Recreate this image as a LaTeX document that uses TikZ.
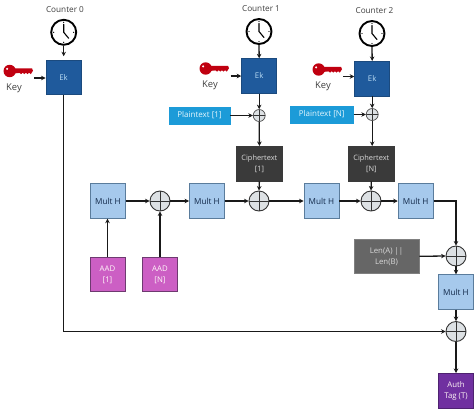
\documentclass[tikz,border=0pt]{standalone}
\usepackage{fontspec}
\setmainfont{Open Sans}
\usetikzlibrary{arrows.meta,calc}
\definecolor{ekfill}{HTML}{1F5A9C}
\definecolor{ekline}{HTML}{1B4A7E}
\definecolor{multfill}{HTML}{A6C9EC}
\definecolor{multline}{HTML}{5A7C9C}
\definecolor{multtext}{HTML}{12294A}
\definecolor{ekt}{HTML}{BBDDF5}
\definecolor{aadfill}{HTML}{CC5FC4}
\definecolor{aadline}{HTML}{6E3A70}
\definecolor{ptfill}{HTML}{1C9BD8}
\definecolor{cifill}{HTML}{3A3A3A}
\definecolor{lenfill}{HTML}{666666}
\definecolor{authfill}{HTML}{7030A0}
\definecolor{xorfill}{HTML}{DDE1E4}
\definecolor{keyred}{HTML}{C00010}
\tikzset{
  x=1pt,y=-1pt,
  txt/.style={font=\fontsize{8.2}{10.5}\selectfont,text=black!75,inner sep=0pt},
  keytxt/.style={font=\fontsize{9.4}{10}\selectfont,text=black!75,inner sep=0pt},
  box/.style={draw,line width=0.9pt,minimum width=35pt,minimum height=34.5pt,inner sep=0pt,align=center,font=\fontsize{7.8}{11}\selectfont},
  ekbox/.style={box,fill=ekfill,draw=ekline,text=ekt},
  multbox/.style={box,fill=multfill,draw=multline,text=multtext,font=\fontsize{8.2}{11}\selectfont},
  aadbox/.style={box,fill=aadfill,draw=aadline,text=white!90!pink},
  cibox/.style={box,fill=cifill,draw=cifill,minimum width=46pt,text=white!85!black,font=\fontsize{7.4}{10.6}\selectfont},
  lenbox/.style={box,fill=lenfill,draw=black!50,minimum width=65pt,text=white!85!black},
  authbox/.style={box,fill=authfill,draw=authfill!70!black,text=white!85!pink},
  ptbox/.style={box,fill=ptfill,draw=ptfill,minimum height=17pt,font=\fontsize{8}{10}\selectfont,text=white!90!cyan},
  xorbig/.style={circle,draw=black!80,fill=xorfill,line width=0.9pt,minimum size=20pt,inner sep=0pt,
    path picture={\draw[black!80,line width=0.9pt] (path picture bounding box.north) -- (path picture bounding box.south)
      (path picture bounding box.west) -- (path picture bounding box.east);}},
  xorsmall/.style={xorbig,minimum size=12pt,line width=0.7pt,draw=black!70},
  clockface/.style={circle,draw=black,fill=white,line width=1.9pt,minimum size=25pt,inner sep=0pt},
  conn/.style={line width=1.3pt,black!90,-{Stealth[length=4.5pt,width=4.5pt]}},
  pics/keyicon/.style={code={
    \fill[keyred,even odd rule] (6.2,6.5) circle (6.2) (3.6,4.4) circle (1.4);
    \fill[keyred] (10,3.8) -- (28.5,3.8) -- (29.5,6.2) -- (27.3,9.6) -- (25.6,8.2) -- (24,9.6) -- (22.4,8.2) -- (20.8,9.6) -- (19.2,8.2) -- (17.6,9.6) -- (16,8.4) -- (10,9) -- cycle;
  }},
  pics/clockhands/.style={code={
    \draw[black,line width=1.1pt,line cap=round] (0,-8) -- (0,0) -- (5,6);
    \foreach \a in {0,90,180,270}{\fill[black] (\a:10) circle (0.7);}
  }}
}
\begin{document}
\begin{tikzpicture}
\useasboundingbox (0,0) rectangle (474,408);
\fill[white] (0,0) rectangle (474,408);

% counters
\node[txt] (c0l) at (65,9.5) {Counter 0};
\node[txt] (c1l) at (261,8.5) {Counter 1};
\node[txt] (c2l) at (374.5,11) {Counter 2};
\node[clockface] (clk0) at (63.7,32.3) {};
\node[clockface] (clk1) at (259,31.5) {};
\node[clockface] (clk2) at (372,33.5) {};
\pic at (clk0) {clockhands};
\pic at (clk1) {clockhands};
\pic at (clk2) {clockhands};

% Ek
\node[ekbox] (ek0) at (63.5,77.3) {Ek};
\node[ekbox] (ek1) at (259.2,76) {Ek};
\node[ekbox] (ek2) at (372.2,78.7) {Ek};

% keys
\pic at (3.5,64.5) {keyicon};
\pic at (199.5,62) {keyicon};
\pic at (312.5,63) {keyicon};
\node[keytxt] (k0) at (14,88) {Key};
\node[keytxt] (k1) at (210,85.5) {Key};
\node[keytxt] (k2) at (323,86) {Key};
\coordinate (ka0) at (34,78);
\coordinate (ka1) at (230.5,76);
\coordinate (ka2) at (343,76.5);

% plaintext and small xors
\node[ptbox,minimum width=61pt] (pt1) at (199.5,115.5) {Plaintext [1]};
\node[ptbox,minimum width=63pt] (ptn) at (321.7,114.5) {Plaintext [N]};
\node[xorsmall] (xs1) at (259.2,115.5) {};
\node[xorsmall] (xsn) at (372.2,114.5) {};

% ciphertext
\node[cibox] (ci1) at (259.4,163.7) {Ciphertext\\{}[1]};
\node[cibox] (cin) at (371.3,163.7) {Ciphertext\\{}[N]};

% main row
\node[multbox] (m1) at (108,201) {Mult H};
\node[xorbig] (x1) at (160,201) {};
\node[multbox] (m2) at (207,201) {Mult H};
\node[xorbig] (x2) at (259,201) {};
\node[multbox] (m3) at (321.5,201) {Mult H};
\node[xorbig] (x3) at (371,201) {};
\node[multbox] (m4) at (415.7,201) {Mult H};

% AAD
\node[aadbox] (a1) at (107.5,274.5) {AAD\\{}[1]};
\node[aadbox] (an) at (160,274.5) {AAD\\{}[N]};

% tail
\node[lenbox] (len) at (386.5,256.3) {Len(A) ||\\Len(B)};
\node[xorbig] (x4) at (456,256) {};
\node[multbox] (m5) at (456,292) {Mult H};
\node[xorbig] (x5) at (456,331.5) {};
\node[authbox] (tag) at (456,390.7) {Auth\\Tag (T)};

% connectors
\draw[conn] (clk0.south) -- ++(0,10.5);
\draw[conn] (clk1.south) -- (ek1.north);
\draw[conn] (clk2.south) -- (ek2.north);
\draw[conn] (ka0) -- (ka0 -| ek0.west);
\draw[conn] (ka1) -- (ka1 -| ek1.west);
\draw[conn] (ka2) -- (ka2 -| ek2.west);
\draw[conn] (ek1.south) -- (xs1.north);
\draw[conn] (ek2.south) -- (xsn.north);
\draw[conn] (pt1.east) -- (xs1.west);
\draw[conn] (ptn.east) -- (xsn.west);
\draw[conn] (xs1.south) -- (ci1.north);
\draw[conn] (xsn.south) -- (xsn.south |- cin.north);
\draw[conn] (ci1.south) -- (x2.north);
\draw[conn] (cin.south) -- (x3.north);
\draw[conn] (m1.east) -- (x1.west);
\draw[conn] (x1.east) -- (m2.west);
\draw[conn] (m2.east) -- (x2.west);
\draw[conn] (x2.east) -- (m3.west);
\draw[conn] (m3.east) -- (x3.west);
\draw[conn] (x3.east) -- (m4.west);
\draw[conn] (a1.north) -- (a1.north |- m1.south);
\draw[conn] (an.north) -- (x1.south);
\draw[conn] (m4.east) -| (x4.north);
\draw[conn] (len.east) -- (x4.west);
\draw[conn] (x4.south) -- (m5.north);
\draw[conn] (m5.south) -- (x5.north);
\draw[conn] (x5.south) -- (tag.north);
\draw[conn] (ek0.south) |- (x5.west);
\end{tikzpicture}
\end{document}
